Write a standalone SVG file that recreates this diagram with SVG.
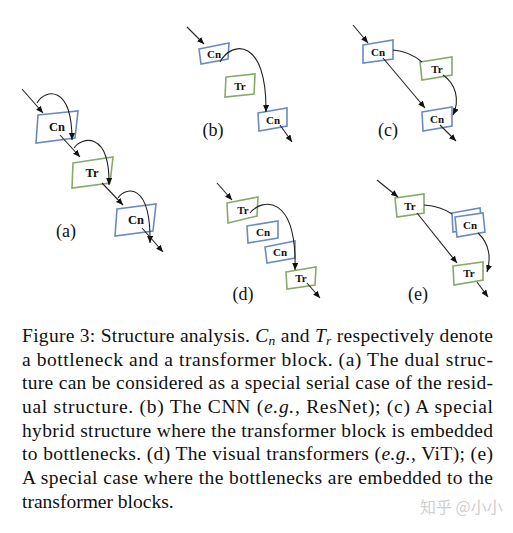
<svg xmlns="http://www.w3.org/2000/svg" width="513" height="533" viewBox="0 0 513 533">
<defs>
<marker id="ah" markerUnits="userSpaceOnUse" markerWidth="7" markerHeight="6" refX="7" refY="3" orient="auto">
<path d="M0,0 L7,3 L0,6 z" fill="#111"/>
</marker>
<style>
.cn{fill:#fff;stroke:#6a8bc2;stroke-width:1.6}
.tr{fill:#fff;stroke:#88a968;stroke-width:1.6}
.lb{font-family:"Liberation Serif",serif;font-weight:bold;font-size:11px;text-anchor:middle;fill:#111}
.lbA{font-size:12.5px}
.ed{fill:none;stroke:#222;stroke-width:1.1}
.ar{marker-end:url(#ah)}
.sub{font-family:"Liberation Serif",serif;font-size:18px;text-anchor:middle;fill:#111}
.cap{font-family:"Liberation Serif",serif;font-size:19.5px;fill:#111}
</style>
</defs>
<rect width="513" height="533" fill="#fff"/>

<!-- (a) -->
<g id="a-cn1"><polygon class="cn" points="38,115 78,111 75,138 36,143"/><text class="lb lbA" x="57" y="131">Cn</text></g>
<g id="a-tr"><polygon class="tr" points="73,163 113,157 110,183 72,188"/><text class="lb lbA" x="92" y="177">Tr</text></g>
<g id="a-cn2"><polygon class="cn" points="117,209 156,204 153,231 115,236"/><text class="lb lbA" x="136" y="224">Cn</text></g>
<text class="sub" x="66" y="237">(a)</text>

<!-- (b) -->
<g id="b-cn1"><polygon class="cn" points="199,49 229,43 228,59 201,64"/><text class="lb" x="214" y="58">Cn</text></g>
<g id="b-tr"><polygon class="tr" points="226,77 255,74 254,94 225,97"/><text class="lb" x="240" y="90">Tr</text></g>
<g id="b-cn2"><polygon class="cn" points="258,113 287,108 287,126 259,131"/><text class="lb" x="273" y="124">Cn</text></g>
<text class="sub" x="213" y="136">(b)</text>

<!-- (c) -->
<g id="c-cn1"><polygon class="cn" points="363,45 393,40 393,59 363,63"/><text class="lb" x="378" y="56">Cn</text></g>
<g id="c-tr"><polygon class="tr" points="420,62 452,57 452,75 422,80"/><text class="lb" x="437" y="73">Tr</text></g>
<g id="c-cn2"><polygon class="cn" points="422,112 452,107 452,126 423,131"/><text class="lb" x="437" y="123">Cn</text></g>
<text class="sub" x="388" y="136">(c)</text>

<!-- (d) -->
<g id="d-tr1"><polygon class="tr" points="227,203 258,197 257,216 228,223"/><text class="lb" x="243" y="214">Tr</text></g>
<g id="d-cn1"><polygon class="cn" points="247,226 278,221 278,238 248,243"/><text class="lb" x="263" y="236">Cn</text></g>
<g id="d-cn2"><polygon class="cn" points="265,247 295,241 295,258 267,263"/><text class="lb" x="280" y="256">Cn</text></g>
<g id="d-tr2"><polygon class="tr" points="286,272 316,267 315,285 287,289"/><text class="lb" x="301" y="282">Tr</text></g>
<text class="sub" x="243" y="300">(d)</text>

<!-- (e) -->
<g id="e-tr1"><polygon class="tr" points="395,198 424,194 424,213 397,217"/><text class="lb" x="410" y="210">Tr</text></g>
<g id="e-cn"><polygon class="cn" points="452,213 480,208 482,227 453,232"/><polygon class="cn" points="455,217 483,213 485,232 457,237"/><text class="lb" x="470" y="229">Cn</text></g>
<g id="e-tr2"><polygon class="tr" points="453,266 483,262 483,280 454,285"/><text class="lb" x="469" y="277">Tr</text></g>
<text class="sub" x="418" y="300">(e)</text>

<g id="connectors">
<!-- a -->
<path class="ed ar" d="M22,89 L43,113"/>
<path class="ed ar" d="M37,103 C45,89 72,84 72,140"/>
<path class="ed ar" d="M60,135 L80,157"/>
<path class="ed ar" d="M74,148 C81,137 110,130 109,185"/>
<path class="ed ar" d="M102,183 L123,205"/>
<path class="ed ar" d="M118,198 C125,187 151,181 150,243"/>
<path class="ed ar" d="M142,228 L163,252"/>
<!-- b -->
<path class="ed ar" d="M187,27 L204,44"/>
<path class="ed ar" d="M220,62 C232,40 267,38 266,112"/>
<path class="ed ar" d="M280,125 L292,142"/>
<!-- c -->
<path class="ed ar" d="M353,25 L368,43"/>
<path class="ed" d="M393,50 C404,51 414,55 422,62"/>
<path class="ed ar" d="M443,75 C456,84 460,100 453,115"/>
<path class="ed ar" d="M383,58 L425,108"/>
<path class="ed ar" d="M440,125 L456,141"/>
<!-- d -->
<path class="ed ar" d="M217,183 L232,200"/>
<path class="ed ar" d="M250,213 C262,198 297,194 295,270"/>
<path class="ed ar" d="M307,283 L320,298"/>
<!-- e -->
<path class="ed ar" d="M377,180 L398,197"/>
<path class="ed" d="M424,205 C436,206 445,209 452,214"/>
<path class="ed ar" d="M478,233 C490,244 491,259 487,272"/>
<path class="ed ar" d="M417,213 L457,263"/>
<path class="ed ar" d="M477,282 L488,297"/>
</g>

<g id="caption">
<text class="cap" x="22" y="342" textLength="471" lengthAdjust="spacing">Figure 3: Structure analysis. <tspan font-style="italic">C</tspan><tspan font-style="italic" font-size="13.5" dy="3">n</tspan><tspan dy="-3"> and </tspan><tspan font-style="italic">T</tspan><tspan font-style="italic" font-size="13.5" dy="3">r</tspan><tspan dy="-3"> respectively denote</tspan></text>
<text class="cap" x="22" y="365.5" textLength="471" lengthAdjust="spacing">a bottleneck and a transformer block.  (a) The dual struc-</text>
<text class="cap" x="22" y="389" textLength="471" lengthAdjust="spacing">ture can be considered as a special serial case of the resid-</text>
<text class="cap" x="22" y="413" textLength="471" lengthAdjust="spacing">ual structure.  (b) The CNN (<tspan font-style="italic">e.g.</tspan>, ResNet); (c) A special</text>
<text class="cap" x="22" y="436.5" textLength="471" lengthAdjust="spacing">hybrid structure where the transformer block is embedded</text>
<text class="cap" x="22" y="460" textLength="471" lengthAdjust="spacing">to bottlenecks. (d) The visual transformers (<tspan font-style="italic">e.g.</tspan>, ViT); (e)</text>
<text class="cap" x="22" y="484" textLength="471" lengthAdjust="spacing">A special case where the bottlenecks are embedded to the</text>
<text class="cap" x="22" y="507.5">transformer blocks.</text>
</g>
<text x="420" y="513" font-family="'Noto Sans CJK SC',sans-serif" font-size="16" fill="#cfcfcf">知乎 @小小</text>
</svg>
